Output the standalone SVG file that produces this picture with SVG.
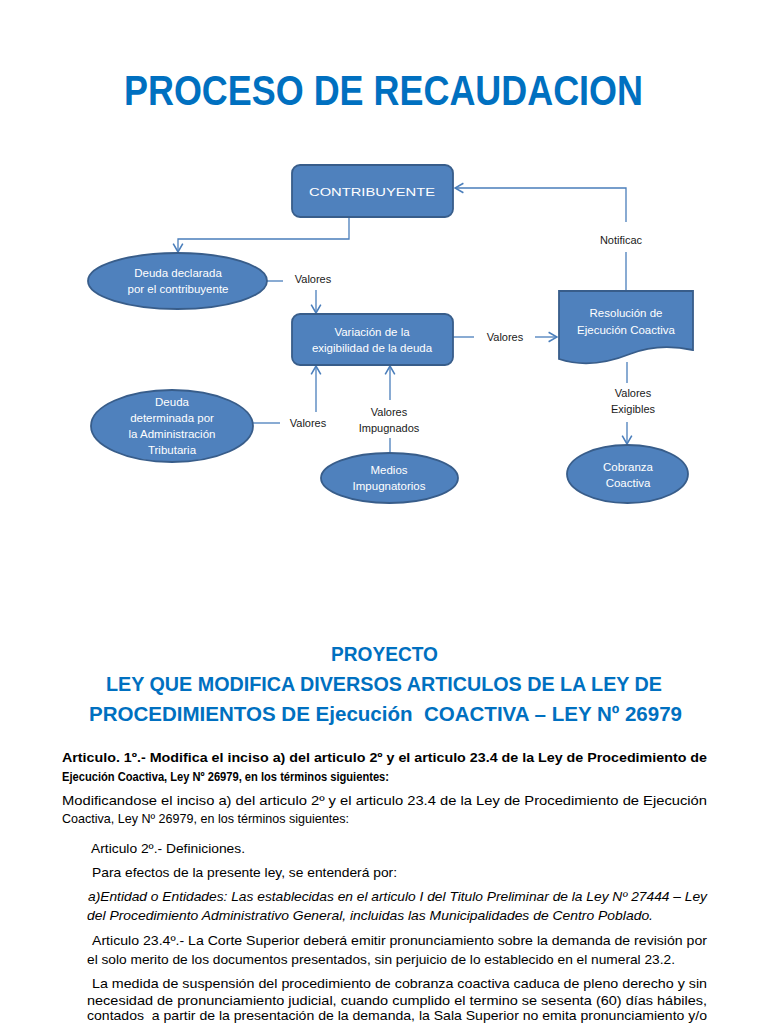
<svg xmlns="http://www.w3.org/2000/svg" width="768" height="1024" viewBox="0 0 768 1024">
<style>
.nd{fill:#4F81BD;stroke:#385D8A;stroke-width:1.8}
.nt{font-family:"Liberation Sans",Arial,sans-serif;font-size:11.5px;fill:#fff;text-anchor:middle}
.lb{font-family:"Liberation Sans",Arial,sans-serif;font-size:11px;fill:#1a1a1a;text-anchor:middle}
.cn{fill:none;stroke:#4A7EBB;stroke-width:1.3}
.h{font-family:"Liberation Sans",Arial,sans-serif;font-weight:bold;fill:#0070C0}
.b{font-family:"Liberation Sans",Arial,sans-serif;font-size:13px;fill:#000;white-space:pre}
.bb{font-weight:bold}
.it{font-style:italic}
</style>
<defs>
<marker id="ar" markerUnits="userSpaceOnUse" markerWidth="12" markerHeight="12" viewBox="0 0 10 10" refX="9" refY="5" orient="auto">
<path d="M2,1 L9,5 L2,9" fill="none" stroke="#4A7EBB" stroke-width="1.3"/>
</marker>
</defs>
<rect width="768" height="1024" fill="#fff"/>
<text class="h" x="124" y="105" font-size="42" textLength="519" lengthAdjust="spacingAndGlyphs">PROCESO DE RECAUDACION</text>

<g id="connectors">
<polyline class="cn" points="349,217 349,239 178,239 178,252" marker-end="url(#ar)"/>
<line class="cn" x1="267" y1="281" x2="283" y2="281"/>
<line class="cn" x1="316" y1="290" x2="316" y2="313" marker-end="url(#ar)"/>
<line class="cn" x1="453" y1="337" x2="474" y2="337"/>
<line class="cn" x1="535" y1="337" x2="557" y2="337" marker-end="url(#ar)"/>
<line class="cn" x1="626" y1="291" x2="626" y2="252"/>
<polyline class="cn" points="626,222 626,188 455,188" marker-end="url(#ar)"/>
<line class="cn" x1="627" y1="362" x2="627" y2="383"/>
<line class="cn" x1="627" y1="422" x2="627" y2="444" marker-end="url(#ar)"/>
<line class="cn" x1="253" y1="423" x2="280" y2="423"/>
<line class="cn" x1="316" y1="412" x2="316" y2="366" marker-end="url(#ar)"/>
<line class="cn" x1="390" y1="400" x2="390" y2="366" marker-end="url(#ar)"/>
<line class="cn" x1="390" y1="438" x2="390" y2="453"/>
<text class="lb" x="313" y="283">Valores</text>
<text class="lb" x="505" y="341">Valores</text>
<text class="lb" x="621" y="244">Notificac</text>
<text class="lb" x="633" y="397">Valores</text>
<text class="lb" x="633" y="413">Exigibles</text>
<text class="lb" x="308" y="427">Valores</text>
<text class="lb" x="389" y="416">Valores</text>
<text class="lb" x="389" y="432">Impugnados</text>
</g>

<g id="contribuyente">
<rect class="nd" x="292" y="165" width="161" height="52" rx="8"/>
<text class="nt" x="372" y="196" font-size="14.5" textLength="126" lengthAdjust="spacingAndGlyphs">CONTRIBUYENTE</text>
</g>
<g id="deuda-declarada">
<ellipse class="nd" cx="177.5" cy="281" rx="89.5" ry="28"/>
<text class="nt" x="178" y="277">Deuda declarada</text>
<text class="nt" x="178" y="293">por el contribuyente</text>
</g>
<g id="variacion">
<rect class="nd" x="292" y="314" width="161" height="51" rx="8"/>
<text class="nt" x="372" y="336">Variación de la</text>
<text class="nt" x="372" y="352">exigibilidad de la deuda</text>
</g>
<g id="resolucion">
<path class="nd" d="M559,291 H693 V350 C670,345 650,346 630,354 C605,364 580,366 559,359 Z"/>
<text class="nt" x="626" y="317">Resolución de</text>
<text class="nt" x="626" y="334">Ejecución Coactiva</text>
</g>
<g id="cobranza">
<ellipse class="nd" cx="627.5" cy="474" rx="60.5" ry="29"/>
<text class="nt" x="628" y="471">Cobranza</text>
<text class="nt" x="628" y="487">Coactiva</text>
</g>
<g id="deuda-determinada">
<ellipse class="nd" cx="172" cy="426" rx="81" ry="36"/>
<text class="nt" x="172" y="406">Deuda</text>
<text class="nt" x="172" y="422">determinada por</text>
<text class="nt" x="172" y="438">la Administración</text>
<text class="nt" x="172" y="454">Tributaria</text>
</g>
<g id="medios">
<ellipse class="nd" cx="389.5" cy="478" rx="68.5" ry="25"/>
<text class="nt" x="389" y="474">Medios</text>
<text class="nt" x="389" y="490">Impugnatorios</text>
</g>

<text class="h" x="331" y="661" font-size="20" textLength="107" lengthAdjust="spacingAndGlyphs">PROYECTO</text>
<text class="h" x="106" y="691" font-size="20" textLength="556" lengthAdjust="spacingAndGlyphs">LEY QUE MODIFICA DIVERSOS ARTICULOS DE LA LEY DE</text>
<text class="h" x="89" y="721" font-size="20" textLength="593" lengthAdjust="spacingAndGlyphs" style="white-space:pre">PROCEDIMIENTOS DE Ejecución  COACTIVA – LEY Nº 26979</text>

<text class="b bb" x="62" y="762" textLength="645" lengthAdjust="spacingAndGlyphs">Articulo. 1º.- Modifica el inciso a) del articulo 2º y el articulo 23.4 de la Ley de Procedimiento de</text>
<text class="b bb" x="62" y="781" textLength="327" lengthAdjust="spacingAndGlyphs">Ejecución Coactiva, Ley Nº 26979, en los términos siguientes:</text>
<text class="b" x="62" y="805" textLength="645" lengthAdjust="spacingAndGlyphs">Modificandose el inciso a) del articulo 2º y el articulo 23.4 de la Ley de Procedimiento de Ejecución</text>
<text class="b" x="62" y="823" textLength="287" lengthAdjust="spacingAndGlyphs">Coactiva, Ley Nº 26979, en los términos siguientes:</text>
<text class="b" x="91" y="853" textLength="154" lengthAdjust="spacingAndGlyphs">Articulo 2º.- Definiciones.</text>
<text class="b" x="92" y="877" textLength="305" lengthAdjust="spacingAndGlyphs">Para efectos de la presente ley, se entenderá por:</text>
<text class="b it" x="88" y="901" textLength="619" lengthAdjust="spacingAndGlyphs">a)Entidad o Entidades: Las establecidas en el articulo I del Titulo Preliminar de la Ley Nº 27444 – Ley</text>
<text class="b it" x="87" y="920" textLength="566" lengthAdjust="spacingAndGlyphs">del Procedimiento Administrativo General, incluidas las Municipalidades de Centro Poblado.</text>
<text class="b" x="92" y="945" textLength="615" lengthAdjust="spacingAndGlyphs">Articulo 23.4º.- La Corte Superior deberá emitir pronunciamiento sobre la demanda de revisión por</text>
<text class="b" x="87" y="964" textLength="588" lengthAdjust="spacingAndGlyphs">el solo merito de los documentos presentados, sin perjuicio de lo establecido en el numeral 23.2.</text>
<text class="b" x="92" y="988" textLength="615" lengthAdjust="spacingAndGlyphs">La medida de suspensión del procedimiento de cobranza coactiva caduca de pleno derecho y sin</text>
<text class="b" x="87" y="1005" textLength="620" lengthAdjust="spacingAndGlyphs">necesidad de pronunciamiento judicial, cuando cumplido el termino se sesenta (60) días hábiles,</text>
<text class="b" x="87" y="1020" textLength="620" lengthAdjust="spacingAndGlyphs">contados  a partir de la presentación de la demanda, la Sala Superior no emita pronunciamiento y/o</text>
</svg>
